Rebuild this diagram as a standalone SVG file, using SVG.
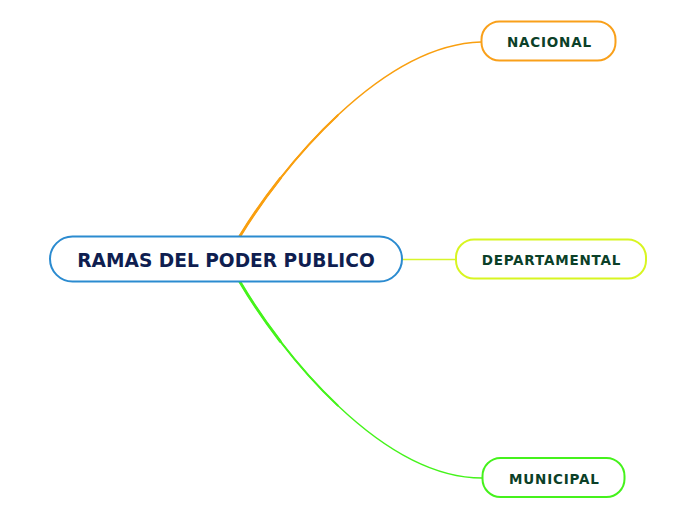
<svg xmlns="http://www.w3.org/2000/svg" width="696" height="520" viewBox="0 0 696 520">
<style>
.node{fill:#ffffff;stroke-width:2}
.t{font-family:"DejaVu Sans","Verdana",sans-serif;font-weight:bold;text-anchor:middle}
.sub{font-size:13.5px;fill:#0b4028;letter-spacing:0.8px}
.c{fill:none;stroke-linecap:round}
</style>
<rect width="696" height="520" fill="#ffffff"/>
<g id="connectors">
<path class="c" d="M240,236 C280,170 380,45 481,42" stroke="#f99f0f" stroke-width="1.4"/>
<path class="c" d="M240,236 C260,203 295,155.25 337.6,115.4" stroke="#f99f0f" stroke-width="2"/>
<path class="c" d="M240,236 C250,219.5 263.75,199.3 280.3,178.25" stroke="#f99f0f" stroke-width="2.8"/>
<path class="c" d="M240,282 C280,350 380,478 482,478" stroke="#45f31b" stroke-width="1.4"/>
<path class="c" d="M240,282 C260,316 295,365 337.75,405.5" stroke="#45f31b" stroke-width="2"/>
<path class="c" d="M240,282 C250,299 263.75,319.75 280.3,341.3" stroke="#45f31b" stroke-width="2.8"/>
<path d="M402,259.5 L456,259.5" stroke="#d8f52a" stroke-width="1.3" fill="none"/>
</g>
<g id="central">
<rect class="node" x="50" y="236.5" width="352" height="45" rx="22.5" stroke="#2b8bd0"/>
<text class="t" x="226" y="266.5" font-size="18.6" fill="#0f1e50">RAMAS DEL PODER PUBLICO</text>
</g>
<g id="nacional">
<rect class="node" x="481.5" y="21.5" width="134" height="39" rx="18" stroke="#f9a01a"/>
<text class="t sub" x="549.4" y="46.5">NACIONAL</text>
</g>
<g id="departamental">
<rect class="node" x="456" y="239.5" width="190" height="39" rx="18" stroke="#d8f521"/>
<text class="t sub" x="551.4" y="264.5">DEPARTAMENTAL</text>
</g>
<g id="municipal">
<rect class="node" x="482.5" y="458" width="142" height="39" rx="18" stroke="#45f21c"/>
<text class="t sub" x="554.4" y="483.5">MUNICIPAL</text>
</g>
</svg>
